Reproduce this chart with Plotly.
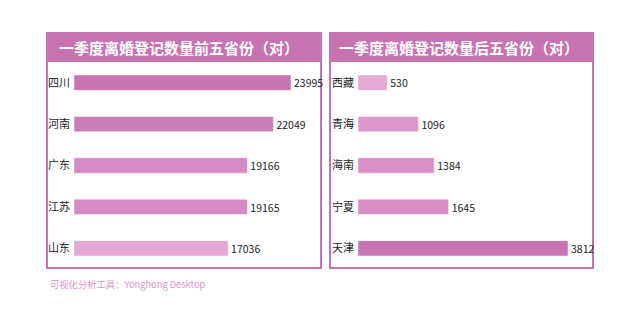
import plotly.graph_objects as go

# Data
top_provinces = ["四川", "河南", "广东", "江苏", "山东"]
top_values = [23995, 22049, 19166, 19165, 17036]
bottom_provinces = ["西藏", "青海", "海南", "宁夏", "天津"]
bottom_values = [530, 1096, 1384, 1645, 3812]
title_left = "一季度离婚登记数量前五省份（对）"
title_right = "一季度离婚登记数量后五省份（对）"
footer = "可视化分析工具：Yonghong Desktop"

top_colors = ["#c874b2", "#cc7cb8", "#d48ac2", "#d48ac2", "#e2a7d3"]
bottom_colors = ["#e3a8d4", "#dc98ca", "#d890c6", "#d68ec4", "#c874b2"]

W, H = 640, 330
PINK = "#c873b1"
FONT = "Noto Sans CJK SC"

def px(x):
    return x / W

def py(y):
    return 1 - y / H

fig = go.Figure()

fig.add_trace(go.Bar(
    x=top_values, y=top_provinces, orientation="h",
    marker=dict(color=top_colors, line=dict(color="rgba(255,255,255,0.45)", width=1)),
    width=0.37, text=[str(v) for v in top_values], textposition="outside",
    textfont=dict(size=11, color="#222222", family=FONT),
    cliponaxis=False, xaxis="x", yaxis="y", hoverinfo="x+y",
))
fig.add_trace(go.Bar(
    x=bottom_values, y=bottom_provinces, orientation="h",
    marker=dict(color=bottom_colors, line=dict(color="rgba(255,255,255,0.45)", width=1)),
    width=0.37, text=[str(v) for v in bottom_values], textposition="outside",
    textfont=dict(size=11, color="#222222", family=FONT),
    cliponaxis=False, xaxis="x2", yaxis="y2", hoverinfo="x+y",
))

ydom = [py(269), py(62)]
axis_common = dict(showgrid=False, zeroline=False, showline=False, showticklabels=False, ticks="")
yaxis_common = dict(showgrid=False, zeroline=False, showline=False, ticks="",
                    autorange="reversed", tickfont=dict(size=11, color="#222222", family=FONT),
                    ticklabelstandoff=3)

fig.update_layout(
    width=W, height=H,
    margin=dict(l=0, r=0, t=0, b=0),
    paper_bgcolor="white", plot_bgcolor="rgba(0,0,0,0)",
    showlegend=False,
    bargap=0.6,
    font=dict(family=FONT),
    xaxis=dict(domain=[px(74), px(318)], range=[0, 244 * 23995 / 217], **axis_common),
    yaxis=dict(domain=ydom, anchor="x", type="category", **yaxis_common),
    xaxis2=dict(domain=[px(358), px(590)], range=[0, 232 * 3812 / 210], anchor="y2", **axis_common),
    yaxis2=dict(domain=ydom, anchor="x2", type="category", **yaxis_common),
)

shapes = []
for (x0, x1) in [(46, 322), (329, 594)]:
    shapes.append(dict(type="rect", xref="paper", yref="paper",
                       x0=px(x0 + 1), x1=px(x1 - 1), y0=py(268), y1=py(33),
                       line=dict(color=PINK, width=2), fillcolor="rgba(0,0,0,0)", layer="below"))
    shapes.append(dict(type="rect", xref="paper", yref="paper",
                       x0=px(x0), x1=px(x1), y0=py(62), y1=py(32),
                       line=dict(width=0), fillcolor=PINK, layer="below"))
fig.update_layout(shapes=shapes)

fig.add_annotation(text="<b>%s</b>" % title_left, xref="paper", yref="paper",
                   x=px(57), y=py(47), xanchor="left", yanchor="middle", showarrow=False,
                   font=dict(size=15, color="white", family=FONT))
fig.add_annotation(text="<b>%s</b>" % title_right, xref="paper", yref="paper",
                   x=px(337), y=py(47), xanchor="left", yanchor="middle", showarrow=False,
                   font=dict(size=15, color="white", family=FONT))
fig.add_annotation(text=footer, xref="paper", yref="paper",
                   x=px(48), y=py(284), xanchor="left", yanchor="middle", showarrow=False,
                   font=dict(size=9.3, color="#da93cc", family=FONT))

fig.write_html("out.html")
